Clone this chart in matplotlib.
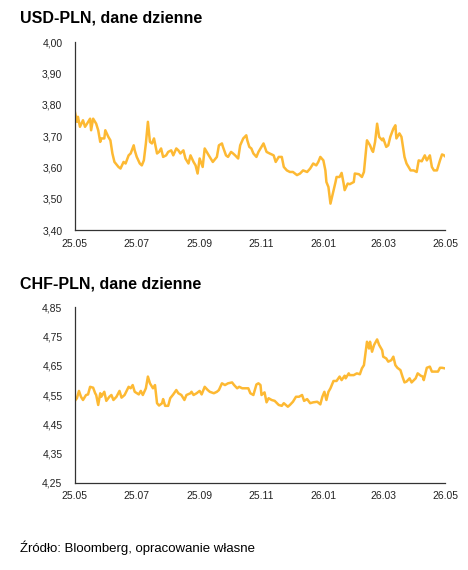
import matplotlib
matplotlib.use("Agg")
import matplotlib.pyplot as plt
import pandas as pd

plt.rcParams['font.family'] = ['Liberation Sans', 'DejaVu Sans']

usd_days = [0,2,3,5,8,10,12,15,16,18,21,23,25,26,29,30,33,35,37,39,43,45,48,50,53,55,58,59,61,64,66,68,70,72,74,76,78,81,83,85,87,90,92,95,97,100,102,104,107,109,112,114,117,119,121,123,126,128,132,136,140,142,145,146,149,151,154,156,158,161,163,166,169,170,172,174,176,179,181,184,186,189,192,196,198,201,204,206,209,212,215,219,222,225,229,232,235,238,240,242,245,247,248,250,252,254,257,258,261,263,265,266,269,271,275,276,280,283,285,288,291,293,294,296,298,300,303,304,307,309,311,314,316,317,320,322,325,327,331,334,337,339,342,345,347,350,352,354,357,360,362,364,365]
usd_vals = [3.778,3.746,3.762,3.730,3.751,3.730,3.740,3.756,3.719,3.756,3.740,3.719,3.682,3.693,3.693,3.719,3.698,3.687,3.645,3.618,3.602,3.597,3.618,3.613,3.639,3.645,3.671,3.655,3.634,3.613,3.607,3.623,3.677,3.746,3.682,3.677,3.693,3.645,3.650,3.661,3.634,3.639,3.650,3.655,3.639,3.661,3.655,3.645,3.655,3.629,3.613,3.639,3.618,3.607,3.581,3.629,3.602,3.661,3.639,3.618,3.634,3.671,3.677,3.666,3.639,3.634,3.650,3.645,3.639,3.629,3.671,3.693,3.703,3.687,3.666,3.661,3.645,3.634,3.650,3.666,3.677,3.650,3.645,3.639,3.618,3.634,3.634,3.602,3.591,3.586,3.586,3.576,3.581,3.591,3.586,3.597,3.613,3.607,3.618,3.634,3.623,3.591,3.554,3.538,3.485,3.512,3.554,3.570,3.570,3.583,3.549,3.528,3.549,3.547,3.554,3.581,3.579,3.570,3.586,3.687,3.671,3.655,3.650,3.682,3.740,3.698,3.687,3.693,3.666,3.671,3.698,3.724,3.735,3.693,3.709,3.698,3.634,3.613,3.591,3.591,3.586,3.623,3.620,3.639,3.623,3.639,3.602,3.591,3.591,3.623,3.642,3.639,3.636]

chf_days = [0,2,4,6,8,11,13,15,18,20,21,23,25,26,29,31,34,36,38,41,44,46,49,53,55,57,59,63,65,67,70,72,74,77,79,81,83,86,87,89,92,94,97,100,102,105,108,110,114,115,117,120,123,125,128,131,133,137,140,142,145,148,151,155,157,160,162,165,168,171,173,176,179,181,183,184,187,189,191,194,197,201,204,206,210,212,215,218,221,224,226,229,232,235,239,242,244,246,248,250,252,255,258,261,263,266,267,270,271,275,278,281,283,285,288,290,291,293,295,298,300,303,304,307,309,312,314,316,318,321,323,325,327,330,332,336,338,341,343,344,347,350,352,355,358,360,362,365]
chf_vals = [4.530,4.539,4.564,4.544,4.533,4.550,4.552,4.578,4.575,4.556,4.550,4.516,4.556,4.544,4.561,4.530,4.544,4.550,4.533,4.544,4.564,4.541,4.550,4.578,4.573,4.584,4.561,4.552,4.564,4.550,4.573,4.613,4.590,4.573,4.584,4.522,4.514,4.522,4.536,4.513,4.513,4.539,4.552,4.567,4.556,4.550,4.533,4.550,4.556,4.561,4.550,4.556,4.564,4.552,4.578,4.567,4.561,4.556,4.561,4.567,4.590,4.584,4.590,4.593,4.584,4.573,4.578,4.573,4.573,4.573,4.556,4.550,4.586,4.590,4.584,4.550,4.559,4.525,4.539,4.533,4.530,4.516,4.513,4.522,4.510,4.516,4.527,4.544,4.544,4.550,4.530,4.536,4.522,4.525,4.527,4.518,4.544,4.561,4.533,4.561,4.573,4.598,4.598,4.613,4.601,4.616,4.607,4.624,4.618,4.618,4.624,4.621,4.641,4.652,4.732,4.709,4.732,4.698,4.721,4.740,4.721,4.703,4.681,4.675,4.664,4.669,4.681,4.652,4.643,4.635,4.613,4.593,4.596,4.607,4.593,4.607,4.624,4.616,4.613,4.601,4.643,4.647,4.630,4.630,4.630,4.643,4.643,4.641]

start = pd.Timestamp("2025-05-01")
end = pd.Timestamp("2026-05-01")
tick_dates = pd.date_range(start, end, freq="2MS")
tick_labels = [d.strftime("%y.%m") for d in tick_dates]

color = "#FDB933"
fig = plt.figure(figsize=(4.68, 5.70), dpi=100)

def panel(rect, days, vals, ylim, yticks, title, title_y):
    ax = fig.add_axes(rect)
    dates = start + pd.to_timedelta(days, unit="D")
    ax.plot(dates, vals, color=color, lw=1.8)
    ax.set_xlim(start, end)
    ax.set_ylim(*ylim)
    ax.set_yticks(yticks)
    ax.set_yticklabels([f"{v:.2f}".replace(".", ",") for v in yticks])
    ax.set_xticks(tick_dates)
    ax.set_xticklabels(tick_labels)
    for s in ("top", "right"):
        ax.spines[s].set_visible(False)
    for s in ("left", "bottom"):
        ax.spines[s].set_color("#333333")
        ax.spines[s].set_linewidth(0.9)
    ax.tick_params(axis="y", length=0, labelsize=7.5, colors="#222222", pad=9)
    ax.tick_params(axis="x", length=0, labelsize=7.5, colors="#222222", pad=6)
    fig.text(20/468, title_y, title, fontsize=11.5, fontweight="bold", va="center")
    return ax

panel([0.160, 0.596, 0.791, 0.330], usd_days, usd_vals, (3.40, 4.00),
      [3.40, 3.50, 3.60, 3.70, 3.80, 3.90, 4.00], "USD-PLN, dane dzienne", 1 - 18/570)
panel([0.160, 0.153, 0.791, 0.308], chf_days, chf_vals, (4.25, 4.85),
      [4.25, 4.35, 4.45, 4.55, 4.65, 4.75, 4.85], "CHF-PLN, dane dzienne", 1 - 284/570)

fig.text(20/468, 1 - 548/570, "Źródło: Bloomberg, opracowanie własne", fontsize=9.5, va="center")
fig.savefig("out.png", dpi=100)
